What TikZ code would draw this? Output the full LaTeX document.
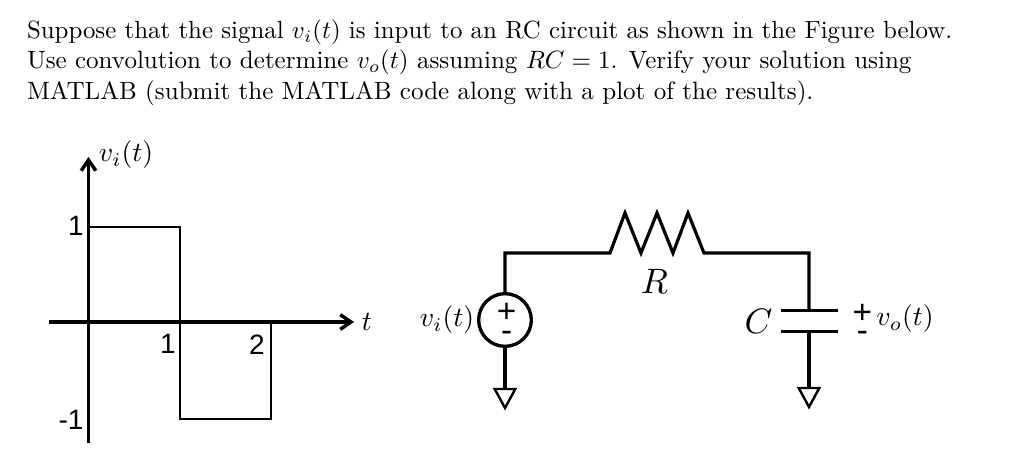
\documentclass[tikz,border=0pt]{standalone}
\usepackage{fontspec}
\setsansfont{Liberation Sans}
\usetikzlibrary{arrows.meta}
\tikzset{
  txt/.style={anchor=base west,inner sep=0pt,outer sep=0pt,font=\fontsize{10}{12}\selectfont},
  lab/.style={inner sep=0pt,outer sep=0pt,scale=2.08,font=\fontsize{10}{12}\selectfont},
  big/.style={inner sep=0pt,outer sep=0pt,scale=2.65,font=\fontsize{10}{12}\selectfont},
  num/.style={inner sep=0pt,outer sep=0pt,font=\sffamily\fontsize{21}{24}\selectfont},
  sgn/.style={inner sep=0pt,outer sep=0pt,align=center,font=\sffamily\fontsize{25}{13.9}\selectfont},
  axis/.style={line width=2.7pt,-{Straight Barb[length=8pt,width=11pt,line width=2.6pt]}},
  sig/.style={line width=1.6pt,line join=miter},
  wire/.style={line width=2.4pt,line join=miter},
  gnd/.style={line width=1.8pt,line join=miter},
  src/.style={circle,draw,line width=2.5pt,minimum size=39.5pt,inner sep=0pt,outer sep=0pt}
}
\begin{document}
\begin{tikzpicture}[x=0.75pt,y=-0.75pt]
\useasboundingbox (0,0) rectangle (1024,467);
% paragraph
\node[txt,scale=1.866] (l1) at (27,38.5) {Suppose that the signal $v_i(t)$ is input to an RC circuit as shown in the Figure below.};
\node[txt,scale=1.878] (l2) at (27,68.5) {Use convolution to determine $v_o(t)$ assuming $RC=1$. Verify your solution using};
\node[txt,scale=1.878] (l3) at (27,99) {MATLAB (submit the MATLAB code along with a plot of the results).};
% plot
\coordinate (ytop) at (88.5,157);
\coordinate (ybot) at (88.5,443);
\coordinate (xl) at (49,322);
\coordinate (xr) at (354,322);
\coordinate (a) at (88,227);
\coordinate (b) at (180,227);
\coordinate (c) at (180,419);
\coordinate (d) at (271,419);
\coordinate (e) at (271,322);
\draw[sig] (a) -- (b) -- (c) -- (d) -- (e);
\draw[axis] (ybot) -- (ytop);
\draw[axis] (xl) -- (xr);
\node[lab] (vit) at (126,155) {$v_i(t)$};
\node[lab] (tl) at (367,322) {$t$};
\node[num] (n1y) at (76,226) {1};
\node[num] (n1x) at (168,344) {1};
\node[num] (n2x) at (257,345) {2};
\node[num] (nm1) at (71,420) {-1};
% circuit
\node[src] (s) at (505,320) {};
\coordinate (tl1) at (505,253);
\coordinate (r0) at (610,253);
\coordinate (r1) at (625,213);
\coordinate (r2) at (641,253);
\coordinate (r3) at (657,213);
\coordinate (r4) at (673,253);
\coordinate (r5) at (688,213);
\coordinate (r6) at (704,253);
\coordinate (tr) at (809,253);
\coordinate (p1) at (809,310.7);
\coordinate (p2) at (809,331.3);
\coordinate (g1) at (505,389);
\coordinate (g2) at (809,388);
\draw[wire] (s.north) -- (tl1) -- (r0) -- (r1) -- (r2) -- (r3) -- (r4) -- (r5) -- (r6) -- (tr) -- (p1);
\draw[wire] (780.7,310.7) -- (838.3,310.7);
\draw[wire] (780.7,331.3) -- (838.3,331.3);
\draw[wire] (p2) -- (g2);
\draw[wire] (s.south) -- (g1);
\draw[gnd] (494.7,389) -- (515.3,389) -- (505,408) -- cycle;
\draw[gnd] (798.7,388) -- (819.3,388) -- (809,407) -- cycle;
\node[sgn] (sp) at (506.7,322.5) {+\\-};
\node[sgn] (cp) at (862.3,322.8) {+\\-};
\node[lab] (vi2) at (447,320) {$v_i(t)$};
\node[lab] (vo) at (905,319) {$v_o(t)$};
\node[big] (R) at (654.5,281) {$R$};
\node[big] (C) at (758.5,321) {$C$};
\end{tikzpicture}
\end{document}
